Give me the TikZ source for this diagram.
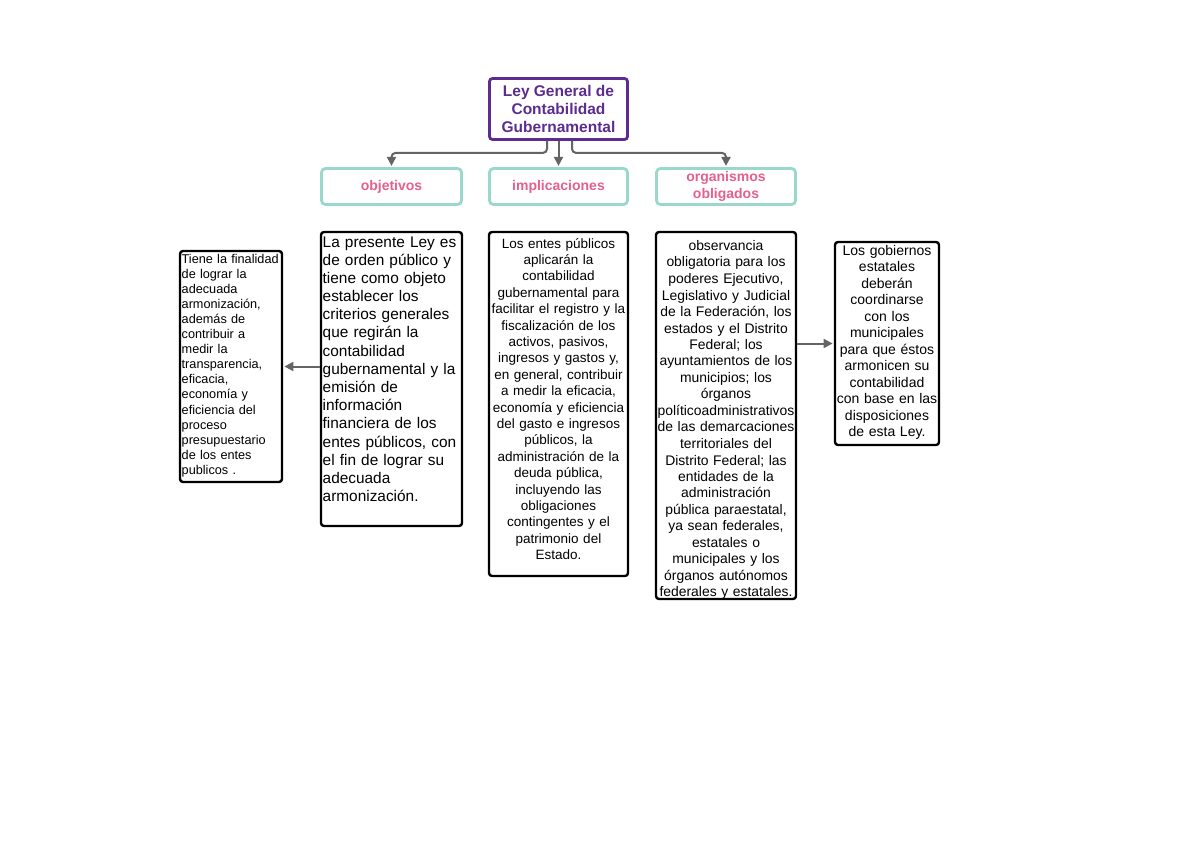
\documentclass[tikz,border=0pt]{standalone}
\usepackage{fontspec}
\setmainfont{Liberation Sans}
\usetikzlibrary{arrows.meta}
\definecolor{lgpurple}{HTML}{5C2D8F}
\definecolor{lgteal}{HTML}{9BD8CC}
\definecolor{lgpink}{HTML}{E5608C}
\definecolor{lggray}{HTML}{646464}
\begin{document}
\begin{tikzpicture}[x=1pt,y=-1pt,
  leybox/.style={draw=lgpurple, line width=2.8pt, rounded corners=3pt, inner sep=0pt,
     minimum width=138pt, minimum height=61pt, align=center, text=lgpurple,
     font=\fontsize{15.5}{18}\selectfont\bfseries},
  lblbox/.style={draw=lgteal, line width=2.8pt, rounded corners=4pt, inner sep=0pt,
     minimum height=36pt, align=center, text=lgpink,
     font=\fontsize{14}{17}\selectfont\bfseries},
  bodybox/.style={draw=black, line width=2.4pt, rounded corners=3pt, inner sep=0pt, fill=white},
  bodytext/.style={inner sep=0pt},
  conn/.style={draw=lggray, line width=2pt, rounded corners=4pt,
     -{Triangle[width=9pt,length=9pt]}, shorten >=1.2pt}
]
\fill[white] (0,0) rectangle (1200,848);
\useasboundingbox (0,0) rectangle (1200,848);

% top
\node[leybox] (ley) at (558.5,109) {Ley General de\\Contabilidad\\Gubernamental};

% labels
\node[lblbox, minimum width=140pt] (objL) at (391.5,186.5) {objetivos};
\node[lblbox, minimum width=138pt] (impL) at (558.5,186.5) {implicaciones};
\node[lblbox, minimum width=139pt] (orgL) at (726,186.5) {organismos\\obligados};

% body boxes
\node[bodybox, minimum width=141pt, minimum height=294pt] (objB) at (391.5,379) {};
\node[bodybox, minimum width=102pt, minimum height=231pt] (leftB) at (231,366.5) {};
\node[bodybox, minimum width=139pt, minimum height=344pt] (impB) at (558.5,404) {};
\node[bodybox, minimum width=140pt, minimum height=367pt] (orgB) at (726,415.5) {};
\node[bodybox, minimum width=104pt, minimum height=203pt] (rightB) at (887,343.5) {};

% body texts
\node[bodytext, anchor=base west, text width=150pt, align=left,
  font=\fontsize{15.4}{18.2}\selectfont] (objT) at (322.5,247)
{La presente Ley es\\de orden público y\\tiene como objeto\\establecer los\\criterios generales\\que regirán la\\contabilidad\\gubernamental y la\\emisión de\\información\\financiera de los\\entes públicos, con\\el fin de lograr su\\adecuada\\armonización.};

\node[bodytext, anchor=base west, text width=120pt, align=left,
  font=\fontsize{12.7}{15.1}\selectfont] (leftT) at (181.5,263)
{Tiene la finalidad\\de lograr la\\adecuada\\armonización,\\además de\\contribuir a\\medir la\\transparencia,\\eficacia,\\economía y\\eficiencia del\\proceso\\presupuestario\\de los entes\\publicos .};

\node[bodytext, anchor=base, text width=160pt, align=center,
  font=\fontsize{13.5}{16.4}\selectfont] (impT) at (558.5,248)
{Los entes públicos\\aplicarán la\\contabilidad\\gubernamental para\\facilitar el registro y la\\fiscalización de los\\activos, pasivos,\\ingresos y gastos y,\\en general, contribuir\\a medir la eficacia,\\economía y eficiencia\\del gasto e ingresos\\públicos, la\\administración de la\\deuda pública,\\incluyendo las\\obligaciones\\contingentes y el\\patrimonio del\\Estado.};

\node[bodytext, anchor=base, text width=160pt, align=center,
  font=\fontsize{13.9}{16.5}\selectfont] (orgT) at (726,250.5)
{observancia\\obligatoria para los\\poderes Ejecutivo,\\Legislativo y Judicial\\de la Federación, los\\estados y el Distrito\\Federal; los\\ayuntamientos de los\\municipios; los\\órganos\\políticoadministrativos\\de las demarcaciones\\territoriales del\\Distrito Federal; las\\entidades de la\\administración\\pública paraestatal,\\ya sean federales,\\estatales o\\municipales y los\\órganos autónomos\\federales y estatales.};

\node[bodytext, anchor=base, text width=130pt, align=center,
  font=\fontsize{14}{16.5}\selectfont] (rightT) at (887,255)
{Los gobiernos\\estatales\\deberán\\coordinarse\\con los\\municipales\\para que éstos\\armonicen su\\contabilidad\\con base en las\\disposiciones\\de esta Ley.};

% connectors
\draw[conn] ([xshift=-11.5pt]ley.south) -- ++(0,12) -| (objL.north);
\draw[conn] (ley.south) -- (impL.north);
\draw[conn] ([xshift=13.5pt]ley.south) -- ++(0,12) -| (orgL.north);
\draw[conn] (objB.west |- leftB.east) -- (leftB.east);
\draw[conn] (orgB.east |- rightB.west) -- (rightB.west);
\end{tikzpicture}
\end{document}
